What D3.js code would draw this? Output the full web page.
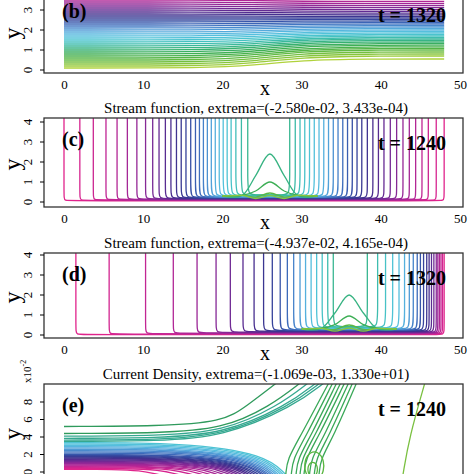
<!DOCTYPE html>
<html><head><meta charset="utf-8">
<script src="https://cdn.jsdelivr.net/npm/d3@7"></script>
<style>body{margin:0;background:#fff}text{font-family:"Liberation Serif","DejaVu Serif",serif}</style>
</head><body><svg id="c" width="474" height="474"></svg>
<script>
// colour ramp of the contour levels (magenta -> navy -> cyan -> green -> yellow-green)
var ramp = ["#e0248c", "#b42698", "#6a2a96", "#2c2f86", "#3d6fc4", "#62c6ea", "#3fc4c8", "#2fa858", "#56b640", "#b0d23c"];
var color = d3.interpolateRgbBasis(ramp);
var xTicks = [0, 10, 20, 30, 40, 50];

// panel (b): level heights at x=0 and at x=48
var bStart = [0.1,0.2,0.3,0.4,0.5,0.6,0.7,0.8,0.9,1.0,1.1,1.2,1.3,1.4,1.5,1.6,1.7,1.8,1.9,2.0,2.1,2.2,2.3,2.4,2.5,2.6,2.7,2.8,2.9,3.0,3.1,3.2,3.3,3.4,3.5,3.6,3.7,3.8];
var bEnd   = [0.55,0.7,0.8,0.9,1.0,1.08,1.16,1.24,1.32,1.4,1.48,1.55,1.62,1.7,1.77,1.85,1.92,2.0,2.07,2.15,2.22,2.3,2.37,2.45,2.52,2.6,2.68,2.76,2.84,2.93,3.02,3.12,3.22,3.32,3.42,3.52,3.62,3.72];

// panel (c): legs of the U-shaped streamlines and their floor
var cLeft  = [0,2,3.7,5.3,6.7,8,9.2,10.3,11.2,12.0,12.8,13.5,14.2,14.8,15.4,16.0,16.6,17.1,17.6,18.1,18.6,19.1,19.6,20.1,20.6,21.1,21.7,22.4,23.2];
var cRight = [48,47,46,45.2,44.4,43.6,42.8,42,41.2,40.4,39.7,39,38.3,37.6,37,36.4,35.8,35.2,34.6,34,33.4,32.8,32.2,31.6,31,30.4,29.8,29.2,28.5];
var cFloor = [0.06,0.08,0.09,0.1,0.11,0.12,0.13,0.14,0.15,0.16,0.17,0.18,0.19,0.2,0.21,0.22,0.23,0.24,0.25,0.26,0.27,0.28,0.29,0.3,0.31,0.32,0.33,0.34,0.35];
var cPeaks = [2.4, 1.0, 0.45, 0.32];
var cPeakX = 26;

// panel (d)
var dLeft  = [1.5,5.7,10.3,13.8,16.8,19.2,21,22.6,24,25.2,26.3,27.3,28.2,29,29.8,30.5,31.2,31.9,32.6,33.3,34];
var dRight = [48,47.8,47.6,47.4,47.2,47,46.7,46.4,46.1,45.8,45.4,45,44.6,44.1,43.6,43,42.3,41.5,40.6,39.6,38.3];
var dFloor = [0.02,0.04,0.06,0.08,0.1,0.12,0.14,0.16,0.18,0.2,0.22,0.24,0.26,0.28,0.3,0.32,0.34,0.36,0.38,0.4,0.42];
var dPeaks = [2.0, 0.95, 0.5, 0.35];
var dPeakX = 36;

// panel (e), y in units of 1e-2
var eUpY   = [5.2,4.4,4.1,3.85,3.65,3.5];
var eUpTop = [27,30,31,32,32.5,33];
var eLowY  = [3.35,3.2,3.05,2.9,2.75,2.6,2.45,2.3,2.15,2.0,1.9,1.8,1.7,1.6,1.5,1.4,1.3,1.2,1.1,1.0,0.9,0.8,0.7,0.6,0.5,0.4,0.3];
var eLowEnd= [28,27.7,27.4,27.1,26.8,26.5,26.2,25.9,25.6,25.3,25,24.6,24.2,23.8,23.4,23,22.5,22,21.5,21,20.2,19.4,18.5,17.5,16.2,14.5,12];
var eDiagB = [28,28.7,29.3,29.8,30.3,31,31.6,32.2];
var eDiagT = [33.5,34,34.5,35,35.5,36,36.5,37];

var svg = d3.select("#c");
var L = 44, R = 463;
var x = d3.scaleLinear().domain([0, 50]).range([64, 460]);
var line = d3.line().x(d => x(d[0]));

function panel(id, top, bottom, yDom, yRange, yTicks, lab, t, title) {
  var y = d3.scaleLinear().domain(yDom).range(yRange);
  svg.append("clipPath").attr("id", id).append("rect")
    .attr("x", L).attr("y", top).attr("width", R - L).attr("height", bottom - top);
  var g = svg.append("g");
  var plot = g.append("g").attr("clip-path", "url(#" + id + ")");
  g.append("rect").attr("x", L).attr("y", top).attr("width", R - L).attr("height", bottom - top)
    .attr("fill", "none").attr("stroke", "#333").attr("stroke-width", 1.3);
  var ya = g.append("g").attr("transform", "translate(" + L + ",0)")
    .call(d3.axisLeft(y).tickValues(yTicks).tickSize(4).tickFormat(d3.format("d")));
  ya.select(".domain").remove();
  ya.selectAll(".tick").attr("transform", null);
  ya.selectAll(".tick line").attr("y1", d => y(d)).attr("y2", d => y(d));
  ya.selectAll("text").attr("font-size", 13).attr("x", 0).attr("y", 0).attr("dy", "0")
    .attr("text-anchor", "middle")
    .attr("transform", d => "translate(-12," + y(d) + ") rotate(-90)");
  g.append("text").attr("transform", "translate(20," + ((top + bottom) / 2 + 2) + ") rotate(-90)")
    .attr("text-anchor", "middle").attr("font-size", 24).text("y");
  g.append("text").attr("x", 62).attr("y", top + 28).attr("font-size", 20).attr("font-weight", "bold").text(lab);
  g.append("text").attr("x", 446).attr("y", top + 32).attr("font-size", 20).attr("font-weight", "bold")
    .attr("text-anchor", "end").text(t);
  if (title) svg.append("text").attr("x", 256).attr("y", top - 5).attr("text-anchor", "middle")
    .attr("font-size", 15).text(title);
  return {plot: plot, y: y, g: g};
}

function xAxis(g, bottom) {
  var xa = g.append("g").attr("transform", "translate(0," + bottom + ")")
    .call(d3.axisBottom(x).tickValues(xTicks).tickSize(0).tickPadding(7));
  xa.select(".domain").remove();
  xa.selectAll("text").attr("font-size", 13);
  g.append("text").attr("x", 265).attr("y", bottom + 22).attr("text-anchor", "middle").attr("font-size", 20).text("x");
}

function draw(p, pts, col, curve) {
  p.plot.append("path").attr("d", line.y(d => p.y(d[1])).curve(curve || d3.curveBasis)(pts))
    .attr("fill", "none").attr("stroke", col).attr("stroke-width", 1.3);
}

// (b)
var pb = panel("cb", -10, 73, [0, 3], [70, 10], [0, 1, 2, 3], "(b)", "t = 1320", null);
bStart.forEach(function(s, i) {
  var e = bEnd[i], c = color(1 - i / (bStart.length - 1) * 0.97);
  draw(pb, [[0, s], [18, s], [24, s + (e - s) * 0.3], [30, s + (e - s) * 0.85], [38, e], [48, e]], c);
});
xAxis(pb.g, 73);

// (c) and (d)
function streams(p, left, right, floor, peaks, px) {
  left.forEach(function(xl, i) {
    var xr = right[i], f = floor[i], k = i / (left.length - 1);
    var c = color(k * 0.72);
    var bend = 0.25 + k * 0.9;
    draw(p, [[xl, 4.3], [xl, bend], [xl, f], [xl + 1.2, f], [xr - 1.2, f], [xr, f], [xr, bend], [xr, 4.3]], c);
  });
  peaks.forEach(function(h, j) {
    var c = color(0.74 + j * 0.07);
    draw(p, [[px - 6, 0.3], [px - 3.5, 0.33], [px - 1.8, h * 0.55], [px, h], [px + 1.8, h * 0.55], [px + 3.5, 0.33], [px + 6, 0.3]], c, d3.curveCardinal);
  });
}
var pc = panel("cc", 118, 207, [0, 4], [202, 122], [0, 1, 2, 3, 4], "(c)", "t = 1240",
  "Stream function,  extrema=(-2.580e-02, 3.433e-04)");
streams(pc, cLeft, cRight, cFloor, cPeaks, cPeakX);
xAxis(pc.g, 207);

var pd = panel("cd", 253, 338, [0, 4], [335, 255], [0, 1, 2, 3, 4], "(d)", "t = 1320",
  "Stream function,  extrema=(-4.937e-02, 4.165e-04)");
streams(pd, dLeft, dRight, dFloor, dPeaks, dPeakX);
xAxis(pd.g, 338);

// (e)
var pe = panel("ce", 384, 480, [0, 10], [472, 384.5], [0, 2, 4, 6, 8], "(e)", "t = 1240",
  "Current Density,  extrema=(-1.069e-03, 1.330e+01)");
pe.g.append("text").attr("transform", "translate(31,383) rotate(-90)").attr("font-size", 11)
  .html('x10<tspan dy="-5" font-size="8">-2</tspan>');
eUpY.forEach(function(y0, i) {
  var xt = eUpTop[i];
  draw(pe, [[0, y0], [12, y0 + 0.05], [20, y0 + 0.5], [xt - 4, 7.5], [xt, 10.3]], i < 2 ? "#2f9a5c" : "#35a890");
});
eLowY.forEach(function(y0, i) {
  var xe = eLowEnd[i], k = i / (eLowY.length - 1);
  draw(pe, [[0, y0], [xe * 0.55, y0], [xe - 2.5, y0 * 0.6], [xe, -0.3]], color(0.62 - k * 0.62));
});
eDiagB.forEach(function(xb, i) {
  draw(pe, [[xb, -0.3], [xb + 0.2, 1.5], [xb + 1.8, 4], [eDiagT[i], 10.3]], "#3aa858");
});
[[31.6, 0.7, 1.2, 1.6], [31.4, 0.3, 0.6, 0.8]].forEach(function(o) {
  var pts = d3.range(0, 2 * Math.PI + 0.01, Math.PI / 8).map(a => [o[0] + o[2] * Math.cos(a), o[1] + o[3] * Math.sin(a)]);
  draw(pe, pts, "#5ab640", d3.curveCardinalClosed);
});
draw(pe, [[42.8, -0.3], [43.6, 4], [45.6, 10.3]], "#7ac040");
</script></body></html>
